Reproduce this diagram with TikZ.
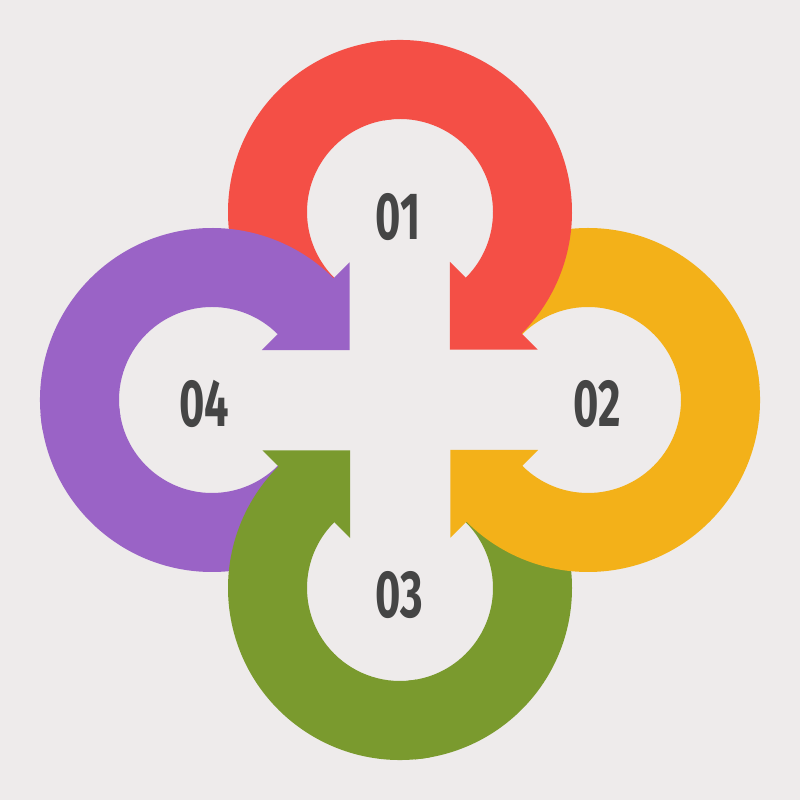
\documentclass[tikz,border=0pt]{standalone}
\usepackage{fontspec}
\setmainfont{Fira Sans}
\usepackage{graphicx}
\definecolor{bgc}{HTML}{EEEBEB}
\definecolor{redc}{HTML}{F44F46}
\definecolor{orangec}{HTML}{F3B119}
\definecolor{greenc}{HTML}{7A9A2E}
\definecolor{purplec}{HTML}{9A63C6}
\definecolor{txtc}{HTML}{454545}
\newcommand\ringstartpart[3]{%
  \fill[#3,shift={#1}] (#2:172) arc[start angle=#2,end angle=#2-130,radius=172]
    -- (#2-130:93) arc[start angle=#2-130,end angle=#2,radius=93] -- cycle;}
\newcommand\ringendpart[3]{%
  \fill[#3,shift={#1}] (#2-125:172) arc[start angle=#2-125,end angle=#2-270,radius=172]
    -- (#2-270:194.5) -- (#2-295.08:146.29) -- (#2-270:70.5) -- (#2-270:93)
    arc[start angle=#2-270,end angle=#2-125,radius=93] -- cycle;}
\tikzset{numlabel/.style={inner sep=0pt,text=txtc,font=\fontsize{57}{57}\selectfont\bfseries}}
\newcommand\numtext[1]{\scalebox{0.65}[1]{#1}}
\begin{document}
\begin{tikzpicture}[x=0.3mm,y=0.3mm]
\fill[bgc] (0,0) rectangle (800,800);
\useasboundingbox (0,0) rectangle (800,800);
\ringstartpart{(400,588)}{225}{redc}
\ringstartpart{(588,400)}{135}{orangec}
\ringstartpart{(400,212)}{45}{greenc}
\ringstartpart{(212,400)}{-45}{purplec}
\ringendpart{(400,588)}{225}{redc}
\ringendpart{(588,400)}{135}{orangec}
\ringendpart{(400,212)}{45}{greenc}
\ringendpart{(212,400)}{-45}{purplec}
\node[numlabel] (n1) at (398,582.5) {\numtext{01}};
\node[numlabel] (n2) at (597,396) {\numtext{02}};
\node[numlabel] (n3) at (399,205) {\numtext{03}};
\node[numlabel] (n4) at (204.5,396) {\numtext{04}};
\end{tikzpicture}
\end{document}
